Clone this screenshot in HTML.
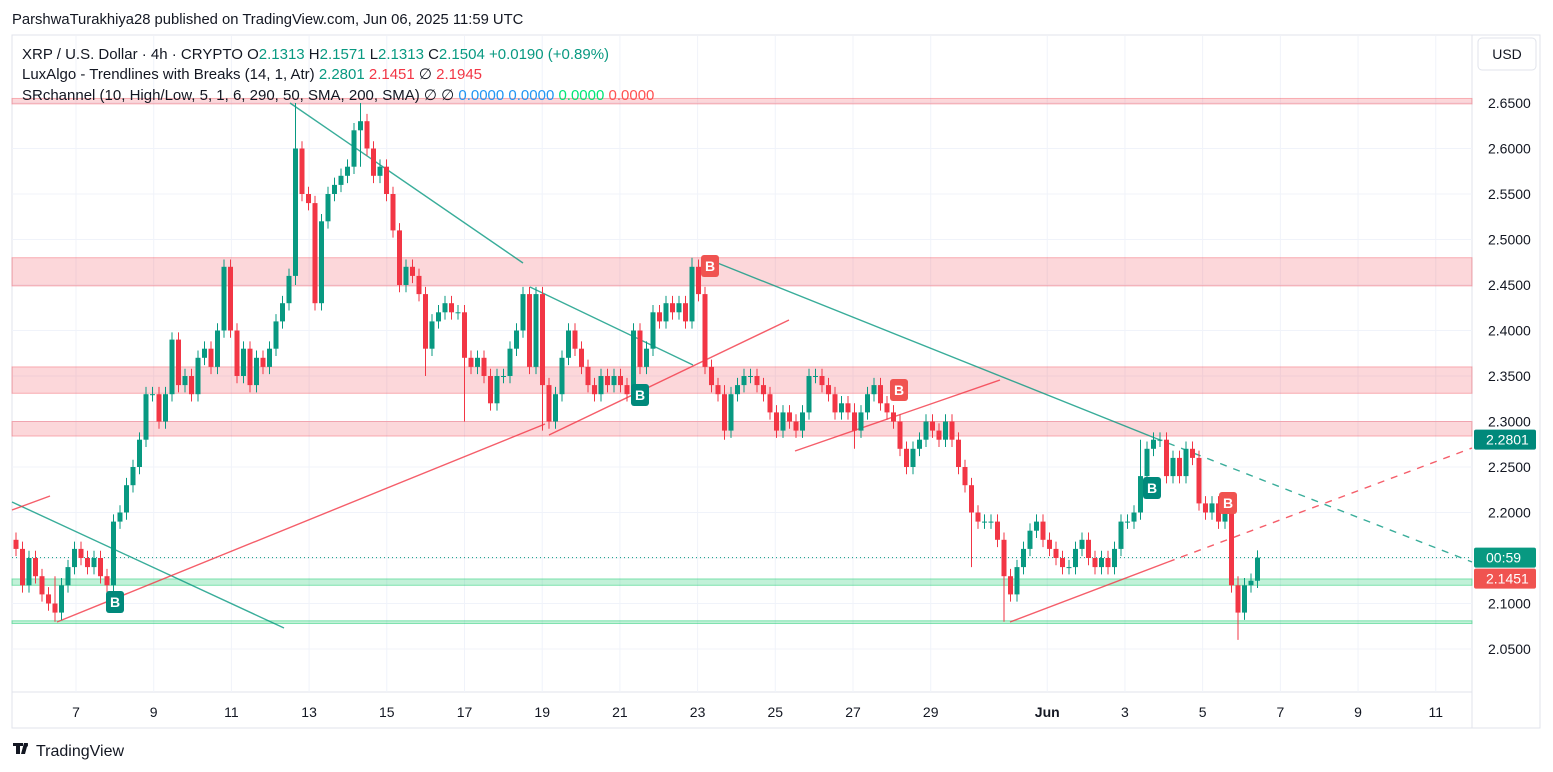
<!DOCTYPE html>
<html><head><meta charset="utf-8"><style>
body{margin:0;background:#fff;width:1553px;height:772px;overflow:hidden;font-family:"Liberation Sans",sans-serif}
svg{position:absolute;left:0;top:0}
</style></head><body>
<svg id="chart" width="1553" height="772" xmlns="http://www.w3.org/2000/svg"></svg>
<script>
const closes=[2.16,2.12,2.15,2.13,2.11,2.10,2.09,2.12,2.14,2.16,2.15,2.14,2.15,2.13,2.12,2.19,2.20,2.23,2.25,2.28,2.33,2.33,2.30,2.33,2.39,2.34,2.35,2.33,2.37,2.38,2.36,2.40,2.47,2.40,2.35,2.38,2.34,2.37,2.36,2.38,2.41,2.43,2.46,2.60,2.55,2.54,2.43,2.52,2.55,2.56,2.57,2.58,2.62,2.63,2.60,2.57,2.58,2.55,2.51,2.45,2.47,2.46,2.44,2.38,2.41,2.42,2.43,2.42,2.42,2.37,2.36,2.37,2.35,2.32,2.35,2.35,2.38,2.40,2.44,2.36,2.44,2.34,2.30,2.33,2.37,2.40,2.38,2.36,2.34,2.33,2.35,2.34,2.35,2.34,2.33,2.40,2.36,2.38,2.42,2.41,2.43,2.42,2.43,2.41,2.47,2.44,2.36,2.34,2.33,2.29,2.33,2.34,2.35,2.35,2.34,2.33,2.31,2.29,2.31,2.30,2.29,2.31,2.35,2.35,2.34,2.33,2.31,2.32,2.31,2.29,2.31,2.33,2.34,2.32,2.31,2.30,2.27,2.25,2.27,2.28,2.30,2.29,2.28,2.30,2.28,2.25,2.23,2.20,2.19,2.19,2.19,2.17,2.13,2.11,2.14,2.16,2.18,2.19,2.17,2.16,2.15,2.14,2.14,2.16,2.17,2.15,2.14,2.15,2.14,2.16,2.19,2.19,2.20,2.24,2.27,2.28,2.28,2.24,2.26,2.24,2.27,2.26,2.21,2.20,2.21,2.19,2.21,2.12,2.09,2.12,2.125,2.1504];
const firstOpen=2.17;
const spikeIdx=[6,43,53,63,69,81,104,109,129,147,152,173,188];
const spikeHigh=[2.13,2.65,2.65,2.41,2.38,2.37,2.48,2.34,2.32,2.21,2.14,2.28,2.13];
const spikeLow=[2.08,2.45,2.58,2.35,2.30,2.29,2.42,2.28,2.27,2.14,2.08,2.20,2.06];
const priceTicks=["2.6500","2.6000","2.5500","2.5000","2.4500","2.4000","2.3500","2.3000","2.2500","2.2000","2.1500","2.1000","2.0500"];
const dateLabels=["7","9","11","13","15","17","19","21","23","25","27","29","Jun","3","5","7","9","11"];
const dateDayIdx=[0,2,4,6,8,10,12,14,16,18,20,22,25,27,29,31,33,35];
const resZones=[[2.655,2.649],[2.48,2.449],[2.36,2.331],[2.30,2.284]];
const supZones=[[2.127,2.120],[2.081,2.078]];

const S=document.getElementById('chart');const NS='http://www.w3.org/2000/svg';
function y(p){return 103+(2.65-p)*910;}
function xi(i){return 16+i*6.5;}
function xd(d){return 76+d*38.85;}
function el(t,a,parent){const e=document.createElementNS(NS,t);for(const k in a)e.setAttribute(k,a[k]);(parent||S).appendChild(e);return e;}
const PL=12,PR=1472,PT=36,PB=692;
let f=el('rect',{x:12,y:35,width:1528,height:693,fill:'none',stroke:'#e0e3eb'});

el('line',{x1:PR,y1:35,x2:PR,y2:728,stroke:'#e0e3eb'});
el('line',{x1:12,y1:692,x2:PR,y2:692,stroke:'#e0e3eb'});
priceTicks.forEach(t=>{const yy=y(parseFloat(t));el('line',{x1:PL,x2:PR,y1:yy,y2:yy,stroke:'#f0f3fa'});
 const tx=el('text',{x:1488,y:yy+5,'font-size':14,fill:'#131722'});tx.textContent=t;
 });
dateLabels.forEach((t,k)=>{const xx=xd(dateDayIdx[k]);el('line',{x1:xx,x2:xx,y1:PT,y2:PB,stroke:'#f0f3fa'});
 const tx=el('text',{x:xx,y:717,'font-size':14,fill:'#131722','text-anchor':'middle','font-weight':t==='Jun'?'bold':'normal'});tx.textContent=t;
 });
resZones.forEach(z=>{const r=el('rect',{x:PL,y:y(z[0]),width:PR-PL,height:y(z[1])-y(z[0]),fill:'rgba(242,54,69,0.2)',stroke:'rgba(242,54,69,0.35)'});
 });
supZones.forEach(z=>{const r=el('rect',{x:PL,y:y(z[0]),width:PR-PL,height:Math.max(2,y(z[1])-y(z[0])),fill:'rgba(8,200,100,0.25)',stroke:'rgba(8,200,100,0.45)'});
 });
el('line',{x1:PL,x2:PR,y1:y(2.1504),y2:y(2.1504),stroke:'#089981','stroke-dasharray':'1 3'});
const TL=[[290,103,523,263,'#089981',0],[530,287,693,365,'#089981',0],[710,260,1155,438,'#089981',0],[1155,438,1472,562,'#089981',1],[12,502,284,628,'#089981',0],
[12,510,50,496,'#f23645',0],[57,622,545,424,'#f23645',0],[549,435,789,320,'#f23645',0],[795,451,1000,380,'#f23645',0],[1010,622,1168,562,'#f23645',0],[1168,562,1472,448,'#f23645',1]];
TL.forEach(l=>{const e=el('line',{x1:l[0],y1:l[1],x2:l[2],y2:l[3],stroke:l[4],'stroke-width':1.4,'stroke-opacity':0.8});if(l[5])e.setAttribute('stroke-dasharray','7 7');
 });
closes.forEach((c,i)=>{const o=i?closes[i-1]:firstOpen;let h=Math.max(o,c)+0.008,lo=Math.min(o,c)-0.008;
 const k=spikeIdx.indexOf(i);if(k>=0){h=Math.max(h,spikeHigh[k]);lo=Math.min(lo,spikeLow[k]);}
 const col=c>=o?'#089981':'#f23645';const x=xi(i);
 const g=el('g',{});
 el('line',{x1:x,x2:x,y1:y(h),y2:y(lo),stroke:col,'stroke-width':1},g);
 el('rect',{x:x-2.5,y:y(Math.max(o,c)),width:5,height:Math.max(1,Math.abs(y(o)-y(c))),fill:col},g);});
const BL=[[115,602,'#00897b'],[640,395,'#00897b'],[1152,488,'#00897b'],[710,266,'#f05350'],[899,390,'#f05350'],[1228,503,'#f05350']];
BL.forEach(b=>{const g=el('g',{});
 el('rect',{x:b[0]-9,y:b[1]-11,width:18,height:22,rx:3,fill:b[2]},g);
 const t=el('text',{x:b[0],y:b[1]+5,'font-size':14,fill:'#fff','text-anchor':'middle','font-weight':'bold'},g);t.textContent='B';});
function badge(yy,txt,bg,name){const g=el('g',{});
 el('rect',{x:1474,y:yy-10,width:62,height:20,rx:2,fill:bg},g);const t=el('text',{x:1486,y:yy+5,'font-size':14,fill:'#fff'},g);t.textContent=txt;}
badge(y(2.2801),'2.2801','#00897b','upper-trend-badge');
badge(y(2.1504),'00:59','#089981','countdown-badge');
badge(y(2.1504)+21,'2.1451','#f05350','lower-trend-badge');
const u=el('rect',{x:1478,y:38,width:58,height:32,rx:4,fill:'#fff',stroke:'#e0e3eb'});
const ut=el('text',{x:1507,y:59,'font-size':14,fill:'#131722','text-anchor':'middle'});ut.textContent='USD';
function txt(x,yy,parts,size,name){const t=el('text',{x:x,y:yy,'font-size':size});
 parts.forEach(p=>{const s=el('tspan',{fill:p[1]},t);s.textContent=p[0];});}
txt(12,24,[['ParshwaTurakhiya28 published on TradingView.com, Jun 06, 2025 11:59 UTC','#131722']],14.8,'publish-info');
const G='#089981',R='#f23645',K='#131722';
txt(22,59,[['XRP / U.S. Dollar · 4h · CRYPTO  ',K],['O',K],['2.1313 ',G],['H',K],['2.1571 ',G],['L',K],['2.1313 ',G],['C',K],['2.1504 +0.0190 (+0.89%)',G]],15,'symbol-legend');
txt(22,79,[['LuxAlgo - Trendlines with Breaks (14, 1, Atr)  ',K],['2.2801  ',G],['2.1451  ',R],['∅  ',K],['2.1945',R]],15,'luxalgo-legend');
txt(22,100,[['SRchannel (10, High/Low, 5, 1, 6, 290, 50, SMA, 200, SMA)  ∅  ∅  ',K],['0.0000  ','#2196f3'],['0.0000  ','#2196f3'],['0.0000  ','#00e676'],['0.0000','#ff5252']],15,'srchannel-legend');
const lg=el('g',{});
el('path',{d:'M13 743h10v3h-3v8h-4v-8h-3z M24 743h4l-3 11h-4z',fill:'#131722'},lg);
el('circle',{cx:26,cy:745,r:2,fill:'#131722'},lg);
const lt=el('text',{x:36,y:756,'font-size':16,fill:'#131722'},lg);lt.textContent='TradingView';
</script>
</body></html>
